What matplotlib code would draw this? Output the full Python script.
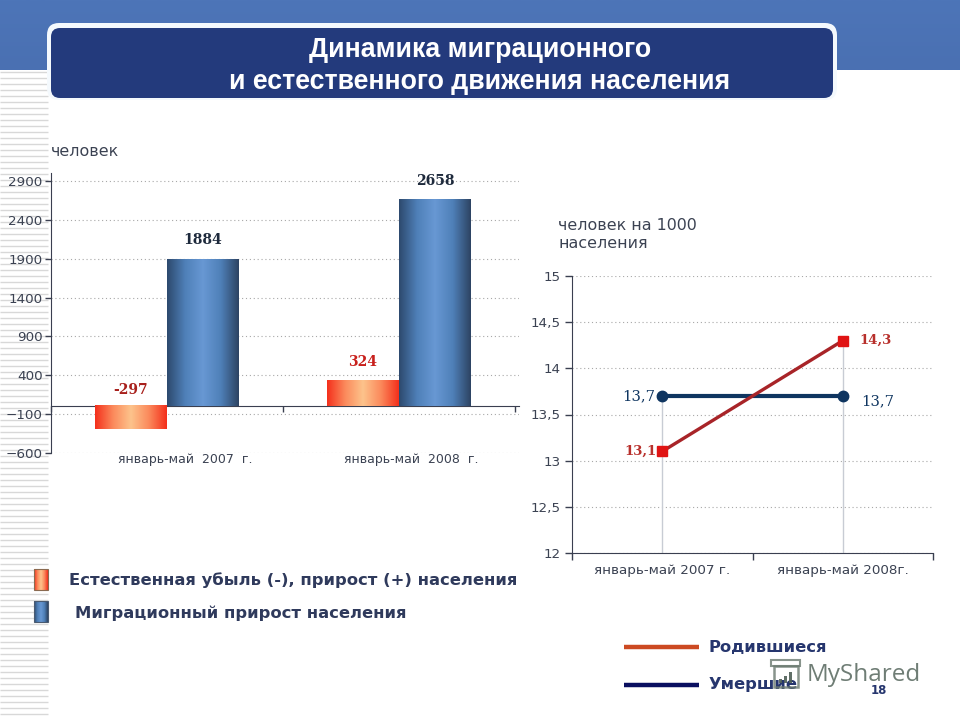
import matplotlib
matplotlib.use('Agg')
import matplotlib.pyplot as plt
import numpy as np
from matplotlib.colors import LinearSegmentedColormap
from matplotlib.patches import FancyBboxPatch, Rectangle

# Данные
periods_left = ['январь-май  2007  г.', 'январь-май  2008  г.']
natural = [-297, 324]
migration = [1884, 2658]
yticks_left = [-600, -100, 400, 900, 1400, 1900, 2400, 2900]

periods_right = ['январь-май 2007 г.', 'январь-май 2008г.']
born = [13.1, 14.3]
died = [13.7, 13.7]
yticks_right = [12, 12.5, 13, 13.5, 14, 14.5, 15]
yticklabels_right = ['12', '12,5', '13', '13,5', '14', '14,5', '15']

W, H = 960, 720
TEXT = '#3b4252'
NAVY = '#233a7c'

red_cmap = LinearSegmentedColormap.from_list('red', ['#f4301c', '#fb8a5c', '#fdc48c', '#fb8a5c', '#f4301c'])
blue_cmap = LinearSegmentedColormap.from_list('blue', ['#2d4a6e', '#4f80b8', '#6898d4', '#4f80b8', '#2d4463'])


def px_axes(fig, x0, y_top, x1, y_bottom):
    # координаты в пикселях картинки -> доли фигуры
    return fig.add_axes([x0 / W, 1 - y_bottom / H, (x1 - x0) / W, (y_bottom - y_top) / H])


def gradient_bar(ax, x, width, value, cmap, zorder=3):
    grad = np.linspace(0, 1, 128).reshape(1, -1)
    bottom, top = min(0, value), max(0, value)
    ax.imshow(grad, cmap=cmap, aspect='auto', zorder=zorder, interpolation='bilinear',
              extent=[x, x + width, bottom, top])


fig = plt.figure(figsize=(W / 100, H / 100), dpi=100, facecolor='white')

# Оформление слайда
bg = fig.add_axes([0, 0, 1, 1])
bg.set_xlim(0, W)
bg.set_ylim(H, 0)
bg.axis('off')
band = np.linspace(0, 1, 64).reshape(-1, 1)
band_cmap = LinearSegmentedColormap.from_list('band', ['#4d75b8', '#4a70b2'])
bg.imshow(band, cmap=band_cmap, aspect='auto', extent=[0, W, 70, 0], zorder=0)
bg.set_xlim(0, W)
bg.set_ylim(H, 0)
for y in range(72, H, 6):
    bg.plot([0, 48], [y, y], color='#d8d8d8', lw=1.0, zorder=1, solid_capstyle='butt')
bg.add_patch(FancyBboxPatch((47, 23), 790, 77, boxstyle='round,pad=0,rounding_size=12',
                            fc='#f4f9fd', ec='none', zorder=2))
bg.add_patch(FancyBboxPatch((51, 28), 782, 70, boxstyle='round,pad=0,rounding_size=9',
                            fc=NAVY, ec='none', zorder=2))
bg.text(480, 50, 'Динамика миграционного', ha='center', va='center', color='white',
        fontsize=19.3, fontweight='bold', family='Liberation Sans', zorder=3)
bg.text(480, 82, 'и естественного движения населения', ha='center', va='center', color='white',
        fontsize=19.3, fontweight='bold', family='Liberation Sans', zorder=3)
bg.text(51, 151, 'человек', va='center', color=TEXT, fontsize=11.4)
bg.text(558, 225, 'человек на 1000', va='center', color=TEXT, fontsize=11.4)
bg.text(558, 244, 'населения', va='center', color=TEXT, fontsize=11.4)

# Легенды
grad = np.linspace(0, 1, 64).reshape(1, -1)
bg.imshow(grad, cmap=red_cmap, aspect='auto', extent=[34, 48, 590, 569], zorder=3)
bg.imshow(grad, cmap=blue_cmap, aspect='auto', extent=[34, 48, 622, 601], zorder=3)
bg.set_xlim(0, W)
bg.set_ylim(H, 0)
bg.add_patch(Rectangle((34, 569), 14, 21, fill=False, ec='#8a6a50', lw=0.8, zorder=4))
bg.add_patch(Rectangle((34, 601), 14, 21, fill=False, ec='#4a5a70', lw=0.8, zorder=4))
bg.text(69, 580, 'Естественная убыль (-), прирост (+) населения', va='center',
        color='#2f3a5c', fontsize=11.75, fontweight='bold')
bg.text(75, 613, 'Миграционный прирост населения', va='center',
        color='#2f3a5c', fontsize=11.75, fontweight='bold')
bg.plot([624, 699], [647, 647], color='#cc4a22', lw=3.2, solid_capstyle='butt')
bg.plot([624, 699], [685, 685], color='#0a0f60', lw=3.2, solid_capstyle='butt')
bg.text(709, 647, 'Родившиеся', va='center', color='#26366e', fontsize=11.8, fontweight='bold')
bg.text(709, 685, 'Умершие', va='center', color='#26366e', fontsize=11.8, fontweight='bold')

# Водяной знак
bg.add_patch(Rectangle((774, 666), 24, 21, fill=False, ec='#6b7a70', lw=1.8, alpha=0.8, zorder=5))
bg.add_patch(Rectangle((771, 660), 29, 6, fill=False, ec='#6b7a70', lw=1.5, alpha=0.8, zorder=5))
for bx, bh in zip([779, 784, 789], [4, 7, 11]):
    bg.add_patch(Rectangle((bx, 683 - bh), 3, bh, fc='#4f5f56', ec='none', alpha=0.9, zorder=5))
bg.text(807, 675, 'MyShared', va='center', color='#5f6f66', fontsize=17.5, alpha=0.9,
        family='Open Sans', zorder=5)
bg.text(879, 691, '18', ha='center', va='center', color='#26366e', fontsize=8.5,
        fontweight='bold', zorder=6)

# Левая диаграмма
ax1 = px_axes(fig, 51, 173, 519, 453)
ax1.patch.set_alpha(0)
bar_w = 0.31
for i, (n, m) in enumerate(zip(natural, migration)):
    c = i + 0.5
    gradient_bar(ax1, c - bar_w, bar_w, n, red_cmap)
    gradient_bar(ax1, c, bar_w, m, blue_cmap)
ax1.set_xlim(0, 468 / 232)
ax1.set_ylim(-600, 3003)
ax1.set_yticks(yticks_left)
ax1.set_yticklabels([str(v).replace('-', '\u2212') for v in yticks_left])
ax1.tick_params(axis='y', length=4, width=1, color='#3a3f50', labelcolor=TEXT, labelsize=9.7, pad=2)
ax1.grid(axis='y', linestyle=(0, (1, 2.5)), color='#a8a8a8', lw=0.8, zorder=1)
ax1.set_axisbelow(True)
for side in ['top', 'right']:
    ax1.spines[side].set_visible(False)
ax1.spines['left'].set_color('#3a3f50')
ax1.spines['bottom'].set_position(('data', 0))
ax1.spines['bottom'].set_color('#3a3f50')
ax1.spines['bottom'].set_bounds(0, 468 / 232)
ax1.set_xticks([0, 1, 2])
ax1.set_xticklabels([])
ax1.set_xticks([0.578, 1.552], minor=True)
ax1.set_xticklabels(periods_left, minor=True, color=TEXT, fontsize=9)
ax1.tick_params(axis='x', which='major', length=4, width=1, direction='out', color='#3a3f50')
ax1.tick_params(axis='x', which='minor', length=0, pad=33.5)

label_font = dict(family='DejaVu Serif', fontweight='bold', fontsize=10, ha='center', va='center')
ax1.text(0.5 - bar_w / 2, 215, str(natural[0]), color='#a8201c', **label_font)
ax1.text(0.5 + bar_w / 2, 2140, str(migration[0]), color='#1e2a3c', **label_font)
ax1.text(1.5 - bar_w / 2, 570, str(natural[1]), color='#c8201c', **label_font)
ax1.text(1.5 + bar_w / 2, 2900, str(migration[1]), color='#1e2a3c', **label_font)

# Правая диаграмма
ax2 = px_axes(fig, 572, 276, 933, 553)
ax2.patch.set_alpha(0)
xs = [0.5, 1.5]
ax2.set_xlim(0, 2)
ax2.set_ylim(12, 15)
ax2.set_yticks(yticks_right)
ax2.set_yticklabels(yticklabels_right)
ax2.tick_params(axis='y', length=5, width=1, color='#3a3f50', labelcolor=TEXT, labelsize=9.7, pad=3)
ax2.grid(axis='y', linestyle=(0, (1, 2.5)), color='#a8a8a8', lw=0.8)
ax2.set_axisbelow(True)
for side in ['top', 'right']:
    ax2.spines[side].set_visible(False)
ax2.spines['left'].set_color('#3a3f50')
ax2.spines['bottom'].set_color('#3a3f50')
ax2.set_xticks([0, 1, 2])
ax2.set_xticklabels([])
ax2.set_xticks(xs, minor=True)
ax2.set_xticklabels(periods_right, minor=True, color=TEXT, fontsize=9.7)
ax2.tick_params(axis='x', which='major', length=5, width=1, color='#3a3f50')
ax2.tick_params(axis='x', which='minor', length=0, pad=8)
ax2.vlines(xs, 12, [max(b, d) for b, d in zip(born, died)], color='#c8ccd4', lw=1, zorder=1)
ax2.plot(xs, died, color='#0f3560', lw=3, marker='o', ms=7.5, zorder=3)
ax2.plot(xs, born, color='#a82428', lw=2.4, marker='s', ms=6.5, mfc='#e01414', mec='#e01414', zorder=4)

val_font = dict(family='DejaVu Serif', va='center')
ax2.text(xs[0] - 0.04, died[0], '13,7', ha='right', color='#0f3560', fontsize=10.6, **val_font)
ax2.text(xs[1] + 0.1, died[1] - 0.06, '13,7', ha='left', color='#0f3560', fontsize=10.6, **val_font)
ax2.text(xs[0] - 0.03, born[0], '13,1', ha='right', color='#b8302c', fontsize=9.5, fontweight='bold', **val_font)
ax2.text(xs[1] + 0.09, born[1], '14,3', ha='left', color='#b8302c', fontsize=9.5, fontweight='bold', **val_font)

fig.savefig('out.png', dpi=100)
